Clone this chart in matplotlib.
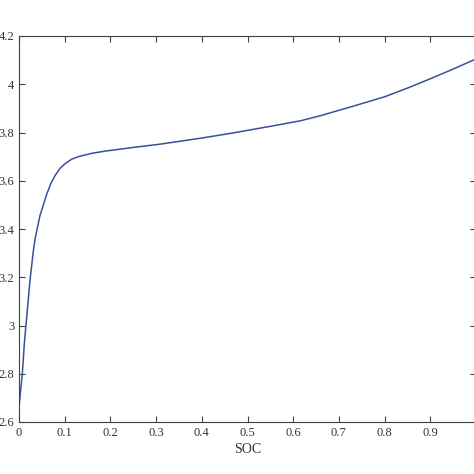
import matplotlib
matplotlib.use("Agg")
import matplotlib.pyplot as plt

plt.rcParams['font.family'] = ['Liberation Serif', 'DejaVu Serif']

# SOC vs voltage
soc = [0.0, 0.0022, 0.0073, 0.0117, 0.0169, 0.0242, 0.0315, 0.0352, 0.0462,
       0.0608, 0.070, 0.0791, 0.090, 0.101, 0.115, 0.130, 0.160, 0.189, 0.25,
       0.31, 0.40, 0.471, 0.566, 0.617, 0.662, 0.691, 0.74, 0.80, 0.85,
       0.903, 0.95, 1.0]
volt = [2.66, 2.705, 2.80, 2.926, 3.036, 3.19, 3.31, 3.36, 3.458,
        3.545, 3.590, 3.622, 3.652, 3.671, 3.689, 3.700, 3.714, 3.723, 3.738,
        3.752, 3.777, 3.799, 3.831, 3.849, 3.871, 3.887, 3.914, 3.948, 3.984,
        4.025, 4.063, 4.105]
xticks = [0, 0.1, 0.2, 0.3, 0.4, 0.5, 0.6, 0.7, 0.8, 0.9]
xticklabels = ['0', '0.1', '0.2', '0.3', '0.4', '0.5', '0.6', '0.7', '0.8', '0.9']
yticks = [2.6, 2.8, 3.0, 3.2, 3.4, 3.6, 3.8, 4.0, 4.2]
yticklabels = ['2.6', '2.8', '3', '3.2', '3.4', '3.6', '3.8', '4', '4.2']

fig = plt.figure(figsize=(4.74, 4.74), dpi=100)
ax = fig.add_axes([19/474, 52/474, 457/474, 386/474])
ax.plot(soc, volt, color='#3b4f9b', linewidth=1.1)

ax.set_xlim(0, 1)
ax.set_ylim(2.6, 4.2)
ax.set_xticks(xticks)
ax.set_xticklabels(xticklabels)
ax.set_yticks(yticks)
ax.set_yticklabels(yticklabels)
ax.tick_params(direction='in', top=True, right=True, length=4, width=0.8,
               colors='#404040', labelsize=9, labelcolor='#333333')
for s in ax.spines.values():
    s.set_color('#404040')
    s.set_linewidth(0.8)
ax.set_xlabel('SOC', fontsize=10, color='#333333', labelpad=3)

fig.savefig('out.png', dpi=100)
